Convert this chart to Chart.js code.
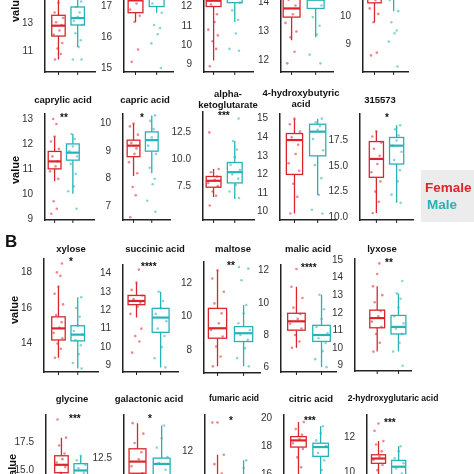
<!DOCTYPE html>
<html><head><meta charset="utf-8">
<script src="https://cdn.jsdelivr.net/npm/chart.js@4.4.1/dist/chart.umd.min.js"></script>
<style>
html,body{margin:0;padding:0;width:474px;height:474px;overflow:hidden;background:#fff;font-family:"Liberation Sans",Arial,sans-serif;}
.abs{position:absolute;}
.t{position:absolute;font-weight:bold;font-size:9.5px;color:#111;transform:translateX(-50%);white-space:nowrap;text-align:center;line-height:11px;}
.s{position:absolute;font-weight:bold;font-size:10px;color:#111;white-space:nowrap;}
.v{position:absolute;font-weight:bold;font-size:11px;color:#111;transform:translate(-50%,-50%) rotate(-90deg);}
</style></head><body>
<script>
// ---------- data ----------
const titles = [
 [],[],[],[],[],
 ["caprylic acid"],["capric acid"],["alpha-","ketoglutarate"],["4-hydroxybutyric","acid"],["315573"],
 ["xylose"],["succinic acid"],["maltose"],["malic acid"],["lyxose"],
 ["glycine"],["galactonic acid"],["fumaric acid"],["citric acid"],["2-hydroxyglutaric acid"]
];
const stars = ["","","","","", "**","*","***","","*", "*","****","**","****","**", "***","*","*","***","***"];
const yTicks = [
 [11,13],[15,16,17],[9,10,11,12],[12,13,14],[9,10],
 [9,10,11,12,13],[7,8,9,10],[7.5,10,12.5],[10,11,12,13,14,15],[10,12.5,15,17.5],
 [14,16,18],[9,10,11,12,13,14],[8,10,12],[6,8,10,12],[9,10,11,12,13,14,15],
 [15,17.5],[7.5,10,12.5],[8,10,12],[12,14,16,18,20],[8,10,12]
];
const tickDecimals = [0,0,0,0,0, 0,0,1,0,1, 0,0,0,0,0, 1,1,0,0,0];
// box stats [lowWhisker, q1, median, q3, highWhisker]
const femaleStats = [
 [10.4,12.1,12.85,13.6,15.5],[16.5,16.8,17.2,17.6,18.0],[9.2,12.0,12.3,13.0,14.0],[12.7,13.5,13.8,14.2,14.8],[9.8,10.5,10.8,11.2,12.0],
 [10.5,11.0,11.3,11.7,12.3],[8.1,8.8,9.2,9.4,10.0],[6.5,7.4,8.0,8.4,9.1],[9.9,12.0,13.85,14.2,15.0],[10.4,13.9,15.7,17.4,18.4],
 [13.2,14.2,14.85,15.5,17.2],[11.6,12.3,12.5,12.8,13.5],[7.0,8.7,9.3,10.5,12.8],[7.2,8.3,8.85,9.35,11.0],[9.8,11.15,11.7,12.15,13.5],
 [13.0,14.8,15.5,16.3,17.9],[8.5,11.2,12.2,13.3,15.5],[7.5,9.0,9.8,10.6,11.8],[15.5,17.93,18.4,18.67,19.7],[9.0,10.5,10.78,11.0,11.8]
];
const maleStats = [
 [11.3,12.9,13.4,14.2,15.5],[16.8,17.0,17.5,17.9,18.3],[11.2,12.2,12.6,13.2,14.0],[12.8,13.8,14.1,14.4,15.0],[10.2,10.9,11.3,11.7,12.4],
 [10.0,11.35,11.65,12.0,12.4],[8.2,9.0,9.4,9.7,10.3],[6.3,7.8,8.8,9.7,11.7],[10.9,13.0,14.3,14.7,15.0],[11.4,15.2,17.0,17.8,19.0],
 [12.6,14.15,14.5,15.0,16.6],[8.9,10.8,11.6,12.1,13.0],[7.0,8.5,9.0,9.4,10.7],[6.0,7.6,8.0,8.6,10.5],[9.8,10.8,11.2,11.85,13.1],
 [12.5,14.3,15.0,15.6,16.3],[8.5,11.0,12.0,12.5,15.3],[7.8,8.8,9.5,10.2,11.5],[14.5,17.27,17.93,18.2,19.4],[8.5,9.8,10.3,10.67,11.5]
];
const femalePoints = [
 [10.4,10.8,11.2,11.6,12.2,12.5,12.9,13.1,13.4,13.8,14.5],[15.2,15.6,16.5,16.7,16.9,17.1,17.3,17.5,17.8],[8.9,9.8,10.2,10.5,10.8,11.2,11.6,12.1,12.4,12.8],[11.9,12.3,12.8,13.0,13.3,13.6,13.9,14.1,14.4],[8.6,8.7,9.8,10.1,10.3,10.6,10.9,11.2],
 [9.2,9.4,9.7,10.6,10.9,11.1,11.3,11.5,11.8,12.1,12.3,12.8,13.0],[6.6,7.4,7.7,8.2,8.6,8.9,9.1,9.3,9.6,9.9,10.0],[5.7,6.6,7.0,7.5,7.8,8.1,8.4,8.8,9.1,12.5],[9.9,10.8,11.5,12.2,12.6,13.1,13.6,14.0,14.3,14.7,15.0],[10.4,11.5,12.5,13.5,14.4,15.2,16.0,16.7,17.3,17.9,18.4],
 [13.2,13.7,14.0,14.3,14.6,14.9,15.2,15.6,16.2,16.8,17.2,17.8,18.0,18.5],[9.7,10.3,10.6,11.0,11.8,12.2,12.4,12.6,12.8,13.1,13.5,14.2],[7.0,7.6,8.2,8.8,9.2,9.6,10.2,10.8,11.5,12.3,12.8],[7.2,7.6,8.0,8.4,8.7,9.0,9.3,9.7,10.3,11.0,12.1],[9.8,10.3,10.8,11.2,11.5,11.8,12.1,12.6,13.0,13.5,14.2,14.8],
 [13.0,14.0,14.8,15.3,15.7,16.0,16.5,17.2,17.9,19.5],[8.5,9.5,10.5,11.2,11.8,12.4,13.0,13.8,14.6,15.5],[7.5,8.2,8.8,9.3,9.8,10.3,10.8,11.3,11.8,13.5,13.5],[15.5,16.5,17.2,17.8,18.2,18.5,18.8,19.2,19.7],[9.0,9.6,10.1,10.4,10.7,10.9,11.2,11.6,11.8,12.4,12.83]
];
const malePoints = [
 [10.4,10.4,11.3,11.8,12.3,12.9,13.2,13.5,13.8,14.2,14.6],[15.0,15.8,16.1,16.3,16.4,16.8,17.1,17.3,17.6,17.9],[9.7,9.8,10.6,11.3,11.8,12.2,12.5,12.9],[11.9,12.2,12.9,13.2,13.5,13.9,14.2,14.5],[8.2,9.1,9.4,9.5,9.8,10.2,10.6,11.0,11.4],
 [9.4,10.1,10.3,10.8,11.2,11.5,11.7,11.9,12.2,12.4],[6.8,7.2,7.8,8.0,8.4,8.9,9.2,9.5,9.8,10.1,10.3],[6.4,7.0,7.6,8.2,8.6,9.0,9.5,10.2,10.9,11.7,13.8],[9.9,10.1,10.9,11.8,12.5,13.3,13.9,14.4,14.6,14.8,15.0],[11.4,12.2,13.5,14.6,15.6,16.4,17.0,17.5,18.0,18.6,19.0],
 [12.6,12.9,13.4,13.9,14.2,14.5,14.7,15.0,15.5,16.0,16.6],[8.9,9.4,10.0,10.6,11.0,11.4,11.8,12.1,12.5,13.0],[7.0,7.5,8.1,8.6,8.9,9.2,9.6,10.2,10.7,12.2,12.9,13.0],[6.0,6.5,7.0,7.5,7.8,8.1,8.5,9.0,9.6,10.5],[9.0,9.8,10.3,10.8,11.1,11.4,11.8,12.3,12.8,13.1,13.8],
 [12.5,13.5,14.3,14.8,15.2,15.5,15.9,16.3],[8.5,9.5,10.5,11.5,12.1,12.6,13.4,14.2,15.3],[7.8,8.4,8.9,9.3,9.7,10.1,10.6,11.1,11.5],[14.5,15.5,16.3,17.0,17.5,18.0,18.4,18.9,19.4],[8.5,9.0,9.5,9.9,10.2,10.5,10.8,11.2,11.5]
];
const yRange = [
 [9.5,18.9],[14.87,19.1],[8.6,15.35],[11.6,16.1],[8.0,12.7],
 [8.95,13.2],[6.5,10.35],[4.35,14.4],[9.55,15.25],[9.72,20.1],
 [12.4,18.75],[8.65,14.45],[6.6,13.3],[5.7,12.35],[8.7,15.05],
 [9.3,19.9],[5.9,16.2],[7.55,13.9],[11.7,20.2],[6.3,13.33]
];
// ---------- layout (pixels) ----------
const geom = [
 [45,59,79,97,-60,77],[124,136,158,175,-60,77],[204,214,236,255,-60,77],[281,292,317,335,-60,77],[363,375,395,410,-60,77],
 [45,55,74,96,112,225],[123,134,153,172,112,225],[203,214,236,256,110,225],[280,295,319,338,112,225],[360,377,398,415,112,225],
 [44,59,79,100,257,377],[123,137,162,180,263,377],[204,218,245,262,260,378],[281,297,323,338,263,377],[355,378,400,413,257,376],
 [46,62,82,103,413,540],[124,138,163,182,413,540],[205,218,245,262,413,540],[284,299,322,340,413,540],[367,379,400,416,413,540]
];
const titleGeom = [null,null,null,null,null,
 [63,94],[145,94],[228,88],[301,87],[380,94],
 [71,243],[155,243],[233,243],[308,243],[382,243],
 [72,393],[149,393],[234,393],[311,393],[393,393]];
const starGeom = [null,null,null,null,null,
 [60,112],[140,112],[218,110],null,[385,112],
 [69,256],[141,261],[227,260],[301,262],[385,257],
 [69,413],[148,413],[229,415],[304,415],[384,417]];
const RED='#d9262c', TEAL='#27b2b8';
const RED_P='rgba(217,38,44,0.55)', TEAL_P='rgba(39,178,184,0.55)';
const jit=[-0.18,0.12,-0.05,0.2,-0.25,0.05,0.16,-0.12,0.24,-0.2,0.0,0.1,-0.08,0.18];

const boxPlugin={id:'box',beforeDatasetsDraw(ch){
  const o=ch.options.plugins.box, c=ch.ctx, x=ch.scales.x, y=ch.scales.y;
  const hw=(x.getPixelForValue(1.35)-x.getPixelForValue(1));
  c.save();
  c.beginPath();c.rect(ch.chartArea.left,ch.chartArea.top-2,ch.chartArea.width+2,ch.chartArea.height+4);c.clip();
  [[1,o.f,RED],[2,o.m,TEAL]].forEach(([xi,s,col])=>{
    const px=x.getPixelForValue(xi), p=s.map(v=>y.getPixelForValue(v));
    c.strokeStyle=col;c.lineWidth=1.3;
    c.beginPath();c.moveTo(px,p[0]);c.lineTo(px,p[1]);c.moveTo(px,p[3]);c.lineTo(px,p[4]);c.stroke();
    c.fillStyle='rgba(255,255,255,0.9)';c.fillRect(px-hw,p[3],2*hw,p[1]-p[3]);
    c.strokeRect(px-hw,p[3],2*hw,p[1]-p[3]);
    c.lineWidth=2.2;c.beginPath();c.moveTo(px-hw,p[2]);c.lineTo(px+hw,p[2]);c.stroke();
  });
  c.restore();
  c.save();c.strokeStyle='#222';c.lineWidth=1;
  [1,2].forEach(xi=>{const px=x.getPixelForValue(xi);c.beginPath();c.moveTo(px,ch.chartArea.bottom);c.lineTo(px,ch.chartArea.bottom+3);c.stroke();});
  c.restore();
}};

for(let i=0;i<20;i++){
  const [ax,fc,mc,ex,top,bot]=geom[i];
  const unit=mc-fc, xmin=1-(fc-ax)/unit, xmax=2+(ex-mc)/unit;
  const LW=34, PT=8, PB=5;
  const d=document.createElement('div');d.className='abs';
  const w=LW+(ex-ax)+2, h=(bot-top)+PT+PB;
  d.style.left=(ax-LW)+'px';d.style.top=(top-PT)+'px';d.style.width=w+'px';d.style.height=h+'px';
  const cv=document.createElement('canvas');d.appendChild(cv);document.body.appendChild(d);
  const fp=femalePoints[i].map((v,k)=>({x:1+jit[k%jit.length],y:v}));
  const mp=malePoints[i].map((v,k)=>({x:2+jit[(k+3)%jit.length],y:v}));
  const dec=tickDecimals[i], tk=yTicks[i];
  new Chart(cv,{type:'scatter',
    data:{datasets:[{data:fp,backgroundColor:RED_P,borderWidth:0,pointRadius:1.3},{data:mp,backgroundColor:TEAL_P,borderWidth:0,pointRadius:1.3}]},
    options:{responsive:true,maintainAspectRatio:false,animation:false,events:[],
      layout:{padding:{top:PT,bottom:PB,left:0,right:2}},
      plugins:{legend:{display:false},tooltip:{enabled:false},box:{f:femaleStats[i],m:maleStats[i]}},
      scales:{
        x:{type:'linear',min:xmin,max:xmax,grid:{display:false},ticks:{display:false},border:{color:'#222',width:1.5},afterFit(s){s.height=0;}},
        y:{min:yRange[i][0],max:yRange[i][1],grid:{display:false},border:{color:'#222',width:1.5},
           afterBuildTicks(s){s.ticks=tk.map(v=>({value:v}));},
           ticks:{color:'#333',font:{size:10,family:'Liberation Sans'},padding:4,callback:v=>Number(v).toFixed(dec)},
           afterFit(s){s.width=LW;}}
      }},plugins:[boxPlugin]});
  if(titleGeom[i]&&titles[i].length){const t=document.createElement('div');t.className='t';
    t.style.left=titleGeom[i][0]+'px';t.style.top=titleGeom[i][1]+'px';
    if(i>=17&&i!==18){t.style.fontSize='8.5px';}
    t.innerHTML=titles[i].join('<br>');document.body.appendChild(t);}
  if(starGeom[i]&&stars[i]){const s=document.createElement('div');s.className='s';
    s.style.left=starGeom[i][0]+'px';s.style.top=starGeom[i][1]+'px';s.textContent=stars[i];document.body.appendChild(s);}
}
[[15,8],[15,170],[14,310],[12,468]].forEach(([x,y])=>{const v=document.createElement('div');v.className='v';v.style.left=x+'px';v.style.top=y+'px';v.textContent='value';document.body.appendChild(v);});
const B=document.createElement('div');B.className='abs';B.style.cssText+='left:5px;top:232px;font-weight:bold;font-size:17px;color:#111;';B.textContent='B';document.body.appendChild(B);
const L=document.createElement('div');L.className='abs';L.style.cssText+='left:421px;top:170px;width:53px;height:52px;background:#ececec;';
L.innerHTML='<div style="position:absolute;left:4px;top:10px;font-weight:bold;font-size:13.5px;color:'+RED+'">Female</div><div style="position:absolute;left:6px;top:27px;font-weight:bold;font-size:13.5px;color:'+TEAL+'">Male</div>';
document.body.appendChild(L);
</script>
</body></html>
